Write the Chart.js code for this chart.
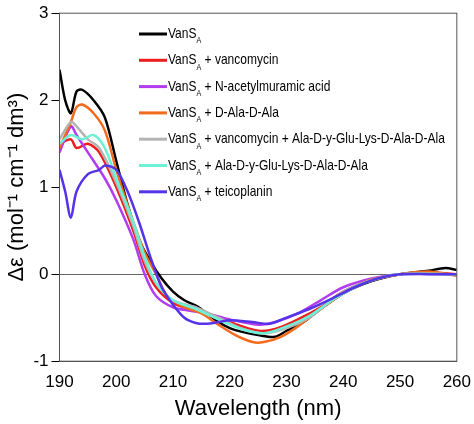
<!DOCTYPE html>
<html>
<head>
<script src="https://cdn.jsdelivr.net/npm/chart.js@4"></script>
<style>body{margin:0;background:#fff}#wrap{width:474px;height:424px}</style>
</head>
<body>
<div id="wrap"><canvas id="c"></canvas></div>
<script>
const labels = ['', ' + vancomycin', ' + N-acetylmuramic acid', ' + D-Ala-D-Ala',
  ' + vancomycin + Ala-D-y-Glu-Lys-D-Ala-D-Ala', ' + Ala-D-y-Glu-Lys-D-Ala-D-Ala', ' + teicoplanin'];
const colors = ['#000000', '#ee1c1c', '#b23cf0', '#f26a1b', '#b4b4b4', '#6cf0d6', '#5533e8'];

const black = [[190,2.35],[191,2.0],[192,1.85],[193,2.1],[194,2.12],[196,2.0],[198,1.8],[200,1.3],[202,0.8],[204,0.4],[206,0.15],[208,-0.05],[210,-0.2],[212,-0.3],[214,-0.36],[216,-0.45],[218,-0.55],[220,-0.62],[222,-0.66],[225,-0.7],[228,-0.72],[230,-0.65],[233,-0.55],[236,-0.4],[240,-0.22],[245,-0.08],[250,0],[255,0.04],[258,0.07],[260,0.05]];
const red = [[190,1.5],[192,1.55],[193,1.45],[195,1.5],[197,1.4],[200,1.0],[203,0.5],[205,0.1],[207,-0.15],[210,-0.33],[213,-0.4],[216,-0.45],[220,-0.55],[225,-0.65],[228,-0.63],[232,-0.52],[236,-0.38],[240,-0.2],[245,-0.07],[250,0],[255,0.02],[260,0]];
const magenta = [[190,1.4],[192,1.7],[193,1.6],[195,1.4],[198,1.1],[200,0.85],[203,0.4],[205,0.0],[207,-0.25],[210,-0.38],[213,-0.42],[216,-0.45],[220,-0.52],[225,-0.58],[228,-0.55],[232,-0.45],[236,-0.3],[240,-0.15],[245,-0.05],[250,0],[260,0]];
const orange = [[190,1.45],[192,1.75],[193,1.92],[194,1.95],[196,1.85],[198,1.65],[200,1.2],[203,0.6],[205,0.25],[207,0.0],[209,-0.25],[212,-0.38],[215,-0.45],[218,-0.58],[221,-0.7],[224,-0.78],[226,-0.78],[229,-0.72],[232,-0.6],[235,-0.45],[240,-0.22],[245,-0.06],[250,0],[255,0.03],[260,-0.02]];
const gray = [[190,1.55],[192,1.75],[193,1.7],[195,1.55],[197,1.45],[200,1.05],[203,0.55],[205,0.15],[207,-0.1],[210,-0.3],[214,-0.38],[218,-0.5],[222,-0.62],[226,-0.68],[230,-0.62],[234,-0.5],[237,-0.35],[240,-0.2],[245,-0.07],[250,0],[260,0]];
const cyan = [[190,1.5],[192,1.6],[194,1.55],[196,1.6],[198,1.45],[200,1.1],[203,0.6],[205,0.2],[207,-0.1],[210,-0.3],[214,-0.4],[218,-0.52],[222,-0.63],[226,-0.68],[230,-0.6],[234,-0.48],[238,-0.3],[242,-0.15],[246,-0.05],[250,0],[260,0]];
const blue = [[190,1.2],[191,0.95],[192,0.65],[193,0.95],[195,1.15],[197,1.2],[198,1.25],[200,1.2],[202,0.95],[204,0.6],[206,0.2],[208,-0.15],[210,-0.35],[212,-0.5],[214,-0.56],[216,-0.57],[218,-0.55],[220,-0.53],[224,-0.55],[227,-0.57],[230,-0.5],[234,-0.4],[238,-0.28],[242,-0.15],[246,-0.05],[250,0],[255,0],[260,0]];
const series = [black, red, magenta, orange, gray, cyan, blue];

const font = "'Liberation Sans', Arial, sans-serif";

// Legende im Plotbereich zeichnen (schmal gestaucht)
const legendPlugin = {
  id: 'inLegend',
  afterDraw(chart) {
    const ctx = chart.ctx;
    labels.forEach((lab, i) => {
      const y = 34 + i * 26.3;
      ctx.save();
      ctx.strokeStyle = colors[i];
      ctx.lineWidth = 3;
      ctx.beginPath(); ctx.moveTo(139, y); ctx.lineTo(167, y); ctx.stroke();
      ctx.translate(168, y);
      ctx.scale(0.8, 1);
      ctx.fillStyle = '#000';
      ctx.textBaseline = 'middle';
      ctx.font = '15px ' + font;
      ctx.fillText('VanS', 0, 0);
      let w = ctx.measureText('VanS').width;
      ctx.font = '9px ' + font;
      ctx.fillText('A', w, 7);
      w += ctx.measureText('A').width;
      ctx.font = '15px ' + font;
      ctx.fillText(lab, w, 0);
      ctx.restore();
    });
  }
};

new Chart(document.getElementById('c'), {
  type: 'line',
  data: {
    datasets: series.map((s, i) => ({
      data: s.map(p => ({ x: p[0], y: p[1] })),
      borderColor: colors[i],
      borderWidth: 2.5,
      pointRadius: 0,
      tension: 0.3,
      fill: false
    })).reverse()
  },
  options: {
    responsive: true,
    maintainAspectRatio: false,
    animation: false,
    layout: { padding: { top: 8, right: 12, left: 4, bottom: 2 } },
    plugins: { legend: { display: false }, tooltip: { enabled: false } },
    scales: {
      x: {
        type: 'linear', min: 190, max: 260,
        ticks: { stepSize: 10, color: '#000', font: { size: 17, family: font } },
        grid: { display: false, drawTicks: true, tickColor: '#000' },
        border: { color: '#555', width: 1 },
        title: { display: true, text: 'Wavelength (nm)', color: '#000', font: { size: 22, family: font }, padding: 0 }
      },
      y: {
        min: -1, max: 3,
        ticks: { stepSize: 1, color: '#000', font: { size: 17, family: font } },
        grid: {
          drawOnChartArea: true, drawTicks: true,
          color: c => c.tick && c.tick.value === 0 ? '#666' : 'rgba(0,0,0,0)',
          tickColor: '#000'
        },
        border: { color: '#555', width: 1 },
        title: { display: true, text: 'Δε (mol⁻¹ cm⁻¹ dm³)', color: '#000', font: { size: 22, family: font }, padding: 0 }
      }
    }
  },
  plugins: [legendPlugin, {
    id: 'frame',
    afterDraw(chart) {
      const a = chart.chartArea, ctx = chart.ctx;
      ctx.save(); ctx.strokeStyle = '#555'; ctx.lineWidth = 1;
      ctx.strokeRect(a.left, a.top, a.right - a.left, a.bottom - a.top);
      ctx.restore();
    }
  }]
});
</script>
</body>
</html>
